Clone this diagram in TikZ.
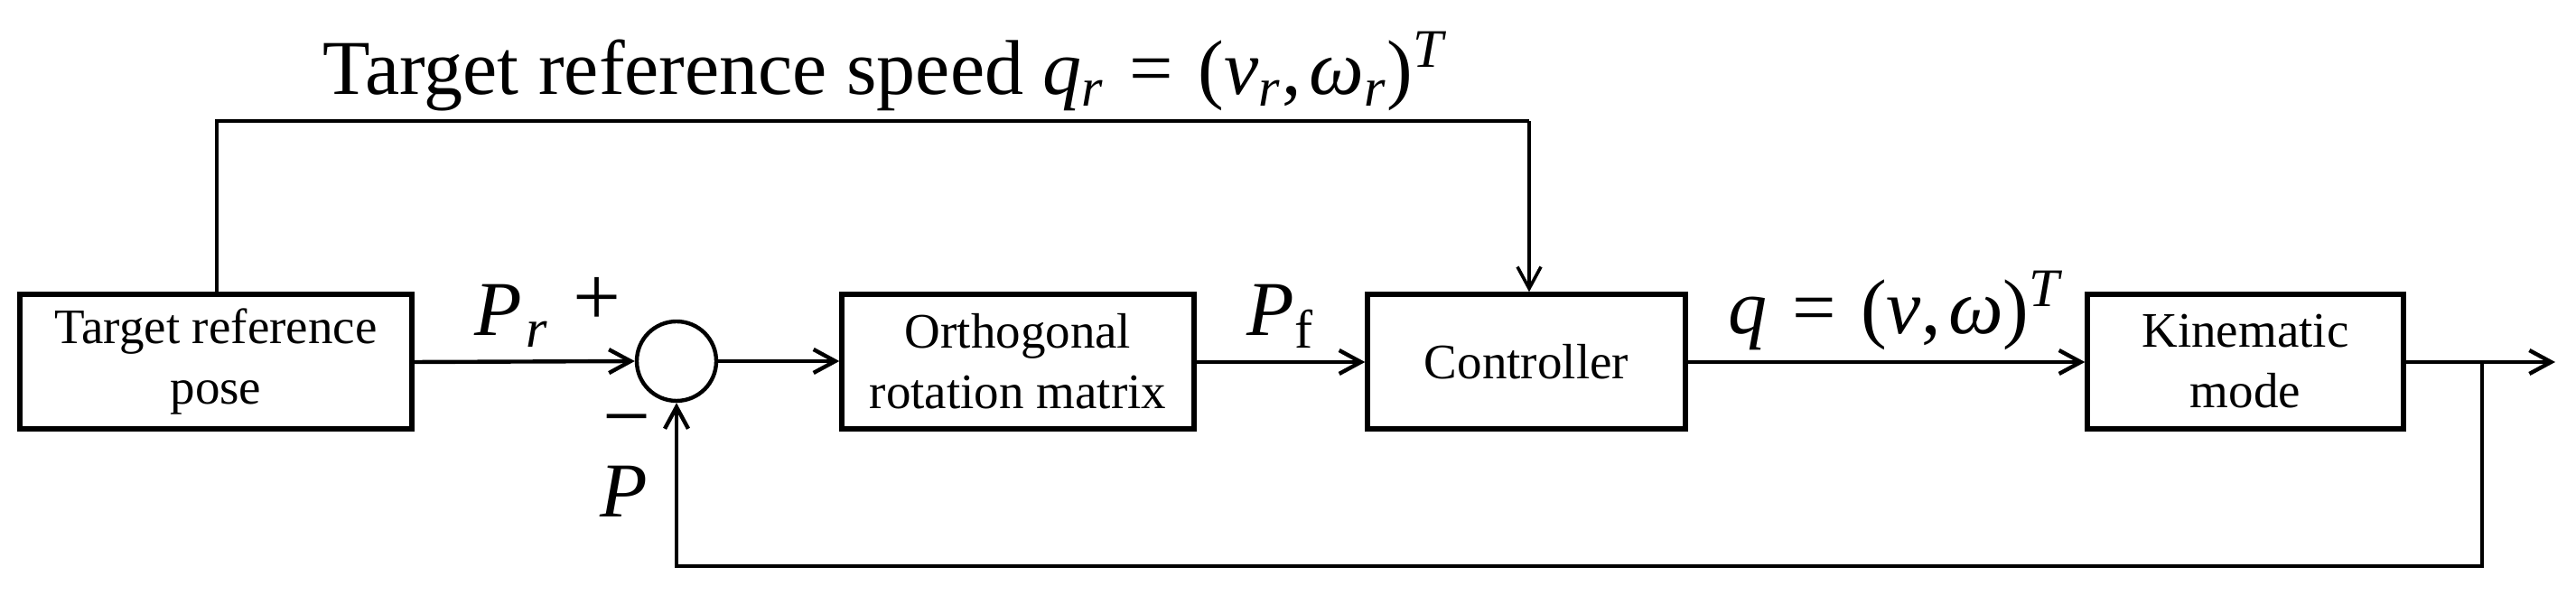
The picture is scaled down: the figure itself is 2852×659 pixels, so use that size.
\documentclass[tikz,border=0pt]{standalone}
\usepackage{fontspec}
\setmainfont{Liberation Serif}
\usetikzlibrary{arrows.meta}
\newcommand{\iv}[1]{\textit{#1}}
\newcommand{\sbr}{\textsubscript{\textit{r}}}
\begin{document}
\begin{tikzpicture}[x=0.25pt,y=-0.25pt,
  blk/.style={draw,line width=1.35pt,minimum height=37.25pt,inner sep=0pt,align=center,
    font=\fontsize{13.75pt}{16.75pt}\selectfont},
  sumc/.style={draw,circle,line width=1.1pt,minimum size=22pt,inner sep=0pt},
  lbl/.style={inner sep=0pt,font=\fontsize{21.5pt}{26pt}\selectfont},
  sgn/.style={inner sep=0pt,font=\fontsize{23.5pt}{28pt}\selectfont},
  conn/.style={line width=1.1pt,-{Straight Barb[length=6pt,width=6.5pt,line width=1.1pt]}},
  thin/.style={line width=0.9pt}]
\useasboundingbox (0,0) rectangle (2852,659);
\node[blk,minimum width=108.5pt] (tp) at (239,400.5) {Target reference\\pose};
\node[sumc] (s) at (749,400) {};
\node[blk,minimum width=97.5pt] (orm) at (1127,400.5) {Orthogonal\\rotation matrix};
\node[blk,minimum width=88pt] (ctl) at (1690,400.5) {Controller};
\node[blk,minimum width=87.5pt] (kin) at (2486,400.5) {Kinematic\\mode};
\coordinate (out) at (2829,401);
\coordinate (br) at (2748,401);
\coordinate (fb1) at (2748,627);
\coordinate (fb2) at (749,627);
\coordinate (t1) at (240,134);
\coordinate (t2) at (1693,134);
% connectors
\draw[conn] (tp.east |- 0,401) -- (s.west);
\draw[conn] (s.east) -- (orm.west |- s.east);
\draw[conn] (orm.east |- 0,401) -- (ctl.west |- 0,401);
\draw[conn] (ctl.east |- 0,401) -- (kin.west |- 0,401);
\draw[conn] (kin.east |- 0,401) -- (out);
\draw[conn] (br) -- (fb1) -- (fb2) -- (s.south);
\draw[thin] (tp.north -| t1) -- (t1) -- (t2);
\draw[thin,-{Straight Barb[length=6pt,width=6.5pt,line width=0.9pt]}] (t2) -- (ctl.north -| t2);
% labels
\node[lbl,anchor=base west] (title) at (357,105) {Target reference speed \iv{q}\sbr\hspace{0.32em}=\hspace{0.32em}(\iv{v}\sbr,\hspace{0.1em}\iv{ω}\sbr)\textsuperscript{\iv{T}}};
\node[lbl,anchor=base west] (lpr) at (525,372) {\iv{P}\hspace{0.05em}\sbr};
\node[sgn,anchor=base] (plus) at (661,361) {+};
\node[sgn,anchor=base] (minus) at (694,493) {−};
\node[lbl,anchor=base west] (lp) at (664,573) {\iv{P}};
\node[lbl,anchor=base west] (lpf) at (1380,372) {\iv{P}\textsubscript{f}};
\node[lbl,anchor=base west] (lq) at (1913,370) {\iv{q}\hspace{0.32em}=\hspace{0.32em}(\iv{v},\hspace{0.1em}\iv{ω})\textsuperscript{\iv{T}}};
\end{tikzpicture}
\end{document}
